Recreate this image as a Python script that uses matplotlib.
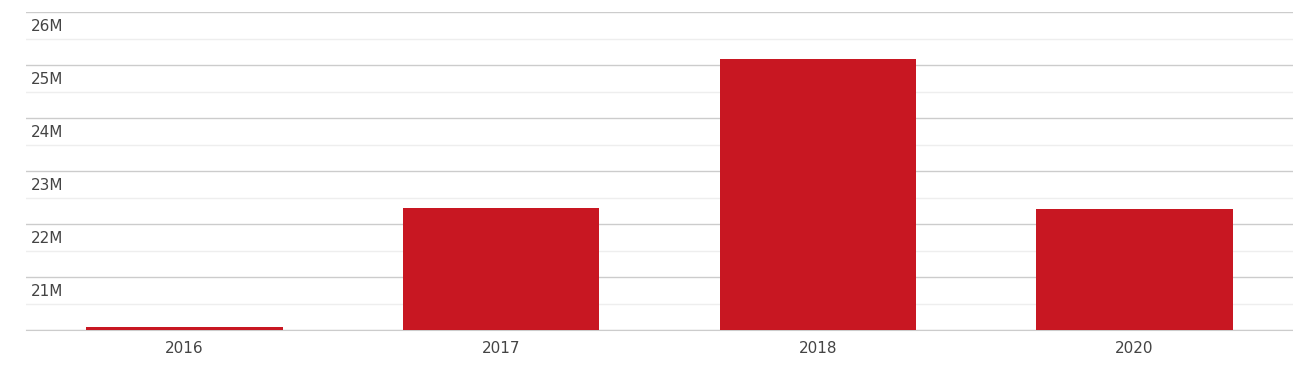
import matplotlib
matplotlib.use("Agg")
import matplotlib.pyplot as plt
from matplotlib.ticker import MultipleLocator

categories = ["2016", "2017", "2018", "2020"]
values = [20.06e6, 22.31e6, 25.12e6, 22.29e6]
y_ticks = [21e6, 22e6, 23e6, 24e6, 25e6, 26e6]
y_labels = ["21M", "22M", "23M", "24M", "25M", "26M"]

plt.rcParams['font.family'] = ['DejaVu Sans']

fig = plt.figure(figsize=(12.93, 3.84), dpi=100)
ax = fig.add_axes([26/1293, (384-330.3)/384, (1293-26)/1293, (330.3-12.3)/384])

x = range(len(categories))
ax.bar(x, values, width=0.62, color="#c81722", zorder=3)
ax.set_xlim(-0.5, len(categories)-0.5)
ax.set_ylim(20e6, 26e6)

ax.yaxis.set_major_locator(MultipleLocator(1e6))
ax.yaxis.set_minor_locator(MultipleLocator(0.5e6))
ax.grid(axis='y', which='major', color='#cccccc', linewidth=1, zorder=0)
ax.grid(axis='y', which='minor', color='#eeeeee', linewidth=1, zorder=0)
ax.set_yticklabels([])
ax.tick_params(axis='y', which='both', length=0)
for t, lab in zip(y_ticks, y_labels):
    ax.text(5/1267, t - 0.12e6, lab, transform=ax.get_yaxis_transform(), ha='left', va='top',
            fontsize=11, color='#444444')

ax.set_xticks(list(x))
ax.set_xticklabels(categories, fontsize=11, color='#444444')
ax.tick_params(axis='x', length=0, pad=8)

for s in ['top', 'left', 'right']:
    ax.spines[s].set_visible(False)
ax.spines['bottom'].set_color('#cccccc')

fig.savefig("out.png", dpi=100)
